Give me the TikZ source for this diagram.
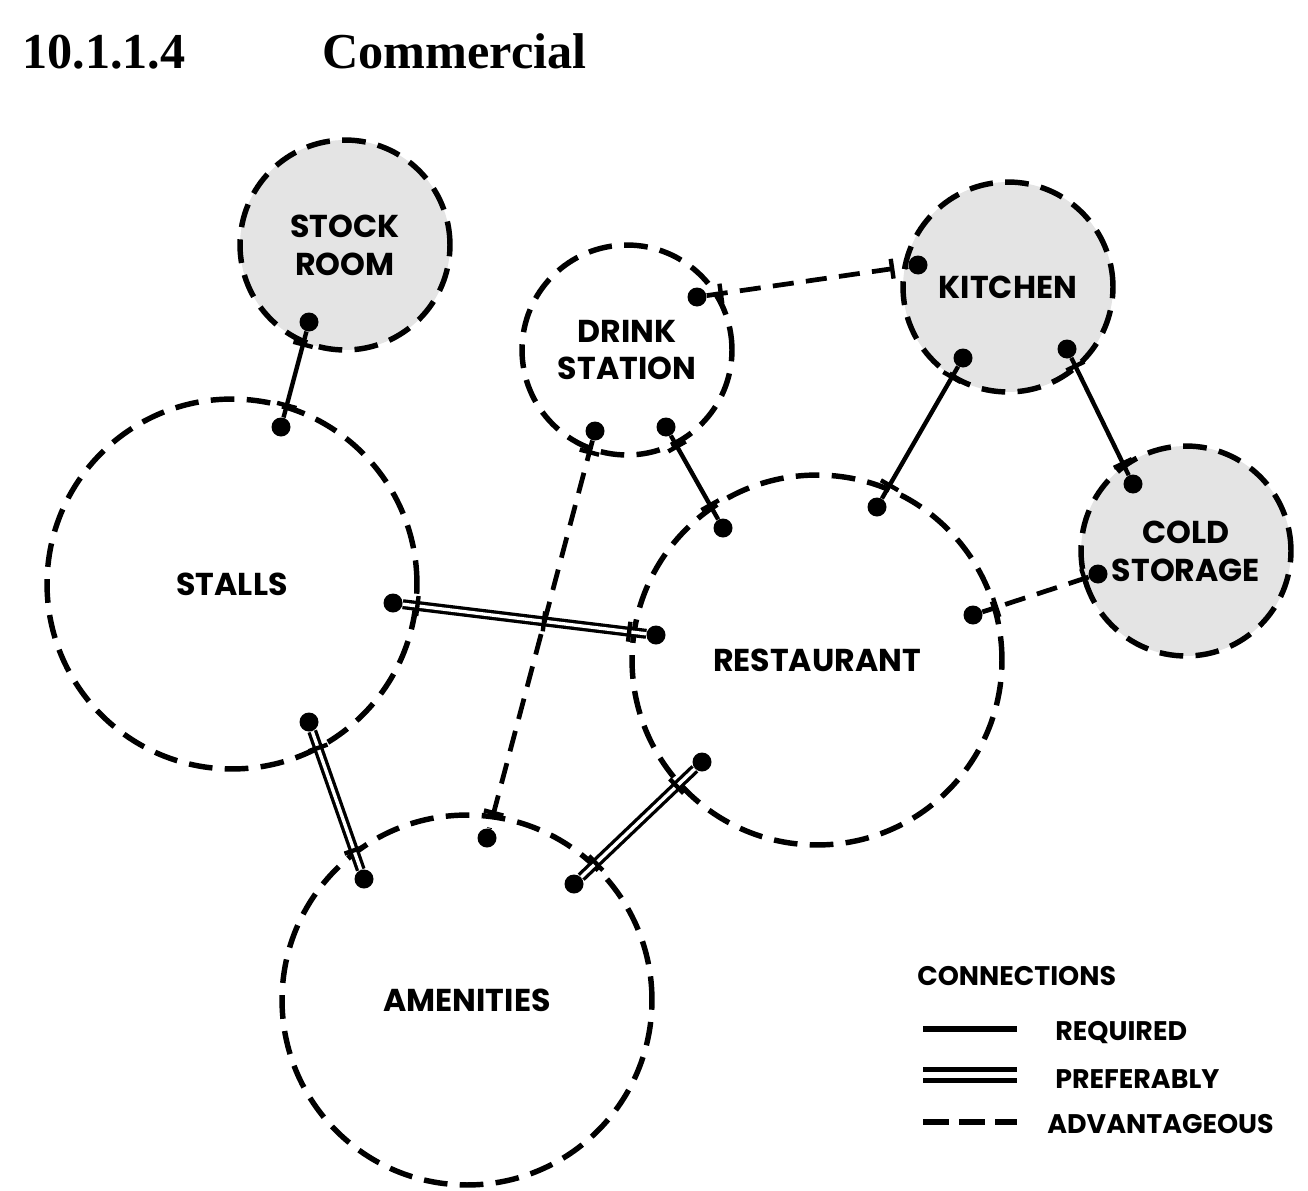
\documentclass[tikz,border=0pt]{standalone}
\usepackage{fontspec}
\setmainfont{Liberation Serif}
\newfontfamily\zonefont{Poppins}
\usepackage{tikz}
\usetikzlibrary{positioning}

\definecolor{zoneGrey}{HTML}{E4E4E4}

\begin{document}
\begin{tikzpicture}[
    x=0.02cm, y=-0.02cm,
    font=\zonefont\bfseries,
    zoneBig/.style={
        circle, draw=black, line width=3.1pt, dash pattern=on 13.5pt off 7pt,
        minimum size=7.4cm, inner sep=0pt, align=center,
        font=\zonefont\bfseries\fontsize{18}{21.5}\selectfont
    },
    zoneSmall/.style={
        zoneBig, minimum size=4.2cm
    },
    zoneShaded/.style={
        zoneSmall, fill=zoneGrey
    },
    endDot/.style={
        circle, fill=black, inner sep=0pt, minimum size=0.38cm
    },
    requiredEdge/.style={
        line width=2.5pt, draw=black
    },
    preferredEdge/.style={
        line width=1.9pt, draw=black, double=white, double distance=1.9pt
    },
    advantageEdge/.style={
        line width=2.7pt, draw=black, dash pattern=on 12pt off 7pt
    },
    crossTick/.style={
        sloped, fill=black, draw=none, inner sep=0pt, minimum width=2.5pt, minimum height=0.4cm
    },
    legendText/.style={
        anchor=base west, inner sep=0pt, font=\zonefont\bfseries\fontsize{15.3}{18}\selectfont
    },
    titleText/.style={
        anchor=base west, inner sep=0pt, font=\rmfamily\bfseries\fontsize{28.6}{34}\selectfont
    }
]
\useasboundingbox (0,0) rectangle (1308,1190);

% Heading
\node[titleText] (secNum) at (22,68) {10.1.1.4};
\node[titleText] (secTitle) at (322,68) {Commercial};

% Zones
\node[zoneShaded] (stock) at (345,245) {STOCK\\ROOM};
\node[zoneSmall] (drink) at (627,350) {DRINK\\STATION};
\node[zoneShaded] (kitchen) at (1008,287) {KITCHEN};
\node[zoneShaded] (cold) at (1186,551) {COLD\\STORAGE};
\node[zoneBig] (stalls) at (232,584) {STALLS};
\node[zoneBig] (rest) at (817,660) {RESTAURANT};
\node[zoneBig] (amen) at (467,1000) {AMENITIES};

% Connection end points
\node[endDot] (stockS) at (309,322) {};
\node[endDot] (stallsN) at (281,427) {};
\node[endDot] (stallsE) at (393,603) {};
\node[endDot] (stallsS) at (309,722) {};
\node[endDot] (drinkE) at (697,297) {};
\node[endDot] (drinkSW) at (595,431) {};
\node[endDot] (drinkSE) at (666,427) {};
\node[endDot] (kitchenW) at (918,265) {};
\node[endDot] (kitchenSW) at (963,358) {};
\node[endDot] (kitchenSE) at (1067,349) {};
\node[endDot] (coldN) at (1133,484) {};
\node[endDot] (coldW) at (1098,574) {};
\node[endDot] (restN) at (723,528) {};
\node[endDot] (restNE) at (877,507) {};
\node[endDot] (restE) at (973,615) {};
\node[endDot] (restW) at (656,635) {};
\node[endDot] (restSW) at (702,762) {};
\node[endDot] (amenN) at (487,838) {};
\node[endDot] (amenNW) at (364,879) {};
\node[endDot] (amenNE) at (574,884) {};

% Required connections
\draw[requiredEdge] (stockS) -- node[crossTick, pos=0.15] {} node[crossTick, pos=0.86] {} (stallsN);
\draw[requiredEdge] (kitchenSW) -- node[crossTick, pos=0.08] {} node[crossTick, pos=0.9] {} (restNE);
\draw[requiredEdge] (kitchenSE) -- node[crossTick, pos=0.07] {} node[crossTick, pos=0.9] {} (coldN);
\draw[requiredEdge] (drinkSE) -- node[crossTick, pos=0.13] {} node[crossTick, pos=0.83] {} (restN);

% Preferable connections
\draw[preferredEdge] (stallsE) -- node[crossTick, pos=0.06] {} node[crossTick, pos=0.58] {} node[crossTick, pos=0.93] {} (restW);
\draw[preferredEdge] (stallsS) -- node[crossTick, pos=0.12] {} node[crossTick, pos=0.86] {} (amenNW);
\draw[preferredEdge] (restSW) -- node[crossTick, pos=0.16] {} node[crossTick, pos=0.87] {} (amenNE);

% Advantageous connections
\draw[advantageEdge] (drinkE) -- node[crossTick, pos=0.07] {} node[crossTick, pos=0.92] {} (kitchenW);
\draw[advantageEdge] (coldW) -- node[crossTick, pos=0.04] {} node[crossTick, pos=0.87] {} (restE);
\draw[advantageEdge] (drinkSW) -- node[crossTick, pos=0.03] {} node[crossTick, pos=0.96] {} (amenN);

% Legend
\node[legendText] (legTitle) at (917,985) {CONNECTIONS};
\node[legendText] (legReq) at (1055,1040) {REQUIRED};
\node[legendText] (legPref) at (1055,1088) {PREFERABLY};
\node[legendText] (legAdv) at (1047,1133) {ADVANTAGEOUS};
\coordinate (reqL) at (923,1029);
\coordinate (reqR) at (1017,1029);
\coordinate (prefL) at (923,1075);
\coordinate (prefR) at (1017,1075);
\coordinate (advL) at (923,1122);
\coordinate (advR) at (1017,1122);
\draw[requiredEdge, line width=3.6pt] (reqL) -- (reqR);
\draw[preferredEdge, line width=3.2pt, double distance=3pt] (prefL) -- (prefR);
\draw[advantageEdge, line width=3.6pt, dash pattern=on 15pt off 5.5pt] (advL) -- (advR);

\end{tikzpicture}
\end{document}
